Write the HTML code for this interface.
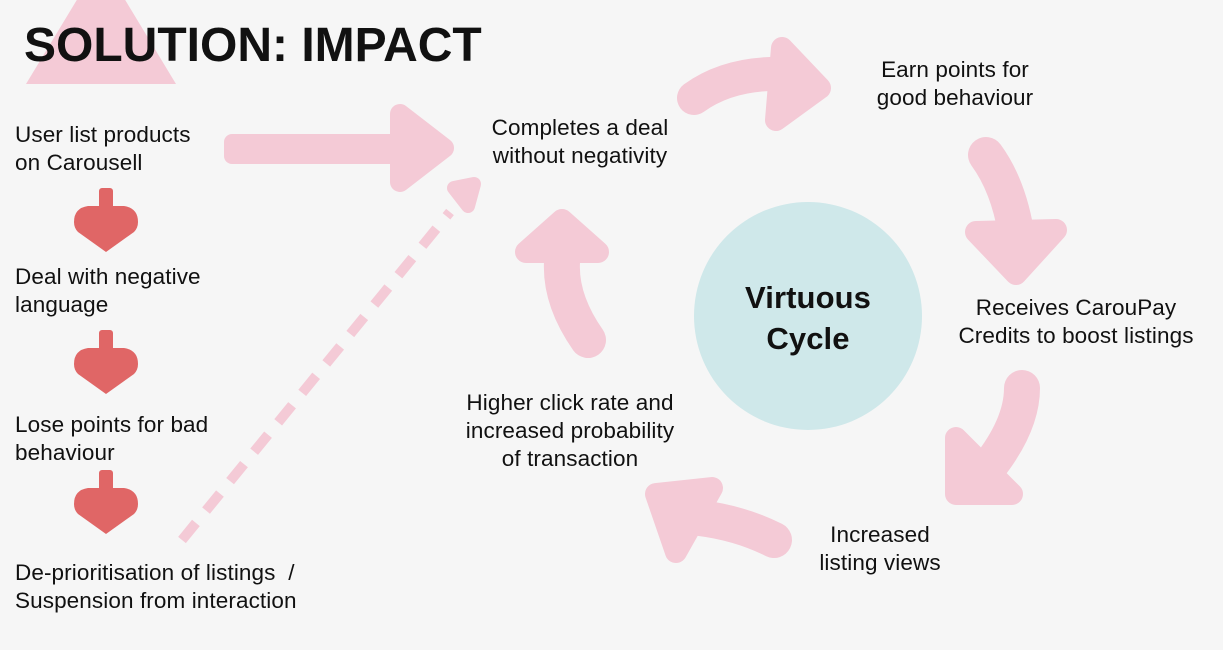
<!DOCTYPE html>
<html><head><style>
body{margin:0;background:#f6f6f6;}
.w{position:relative;width:1223px;height:650px;overflow:hidden;background:#f6f6f6;font-family:"Liberation Sans",sans-serif;color:#111;}
.t{position:absolute;font-size:22.5px;line-height:28px;white-space:nowrap;letter-spacing:0.1px;}
.c{text-align:center;}
</style></head><body><div class="w">
<svg width="1223" height="650" style="position:absolute;left:0;top:0">
<g fill="#f4cad6" stroke="#f4cad6" stroke-linejoin="round" stroke-linecap="round">
<polygon points="26,84 176,84 101,-40" stroke="none"/>
<!-- straight arrow -->
<rect x="224" y="134" width="180" height="30" rx="8" stroke="none"/>
<polygon points="400,114 444,148 400,182" stroke-width="20"/>
<!-- top arc -->
<path d="M694,98 Q730,72 785,74" fill="none" stroke-width="34"/>
<polygon points="782,48 820,88 776,120" stroke-width="22"/>
<!-- right top -->
<path d="M986,155 Q1008,185 1016,232" fill="none" stroke-width="36"/>
<polygon points="976,232 1056,230 1016,274" stroke-width="22"/>
<!-- right lower -->
<path d="M1022,388 Q1022,425 988,468" fill="none" stroke-width="36"/>
<polygon points="956,438 956,494 1012,494" stroke-width="22"/>
<!-- bottom -->
<path d="M774,540 Q740,523 700,518" fill="none" stroke-width="36"/>
<polygon points="656,494 712,488 676,552" stroke-width="22"/>
<!-- left -->
<path d="M588,340 Q560,300 562,262" fill="none" stroke-width="36"/>
<polygon points="526,252 598,252 562,220" stroke-width="22"/>
<!-- dashed -->
<line x1="182" y1="540" x2="450" y2="212" stroke-width="10" stroke-dasharray="22,16" stroke-linecap="butt"/>
<polygon points="454,188 474,184 468,206" stroke-width="14"/>
</g>
<g fill="#e06666">
<g id="d"><rect x="99" y="188" width="14" height="24" rx="3"/><path d="M74,222 Q74,208 88,206 L124,206 Q138,208 138,222 Q138,228 134,232 L106,252 L78,232 Q74,228 74,222Z"/></g>
<use href="#d" y="142"/><use href="#d" y="282"/>
</g>
<circle cx="808" cy="316" r="114" fill="#cfe8ea"/>
</svg>
<div style="position:absolute;left:24px;top:18px;font-size:48px;font-weight:bold;">SOLUTION: IMPACT</div>
<div class="t" style="left:15px;top:121px">User list products<br>on Carousell</div>
<div class="t" style="left:15px;top:263px">Deal with negative<br>language</div>
<div class="t" style="left:15px;top:411px">Lose points for bad<br>behaviour</div>
<div class="t" style="left:15px;top:559px">De-prioritisation of listings &nbsp;/<br>Suspension from interaction</div>
<div class="t c" style="left:460px;top:114px;width:240px">Completes a deal<br>without negativity</div>
<div class="t c" style="left:835px;top:56px;width:240px">Earn points for<br>good behaviour</div>
<div class="t c" style="left:940px;top:294px;width:272px">Receives CarouPay<br>Credits to boost listings</div>
<div class="t c" style="left:760px;top:521px;width:240px">Increased<br>listing views</div>
<div class="t c" style="left:440px;top:389px;width:260px">Higher click rate and<br>increased probability<br>of transaction</div>
<div class="t c" style="left:690px;top:277px;width:236px;font-size:31px;line-height:41px;font-weight:bold">Virtuous<br>Cycle</div>
</div></body></html>
